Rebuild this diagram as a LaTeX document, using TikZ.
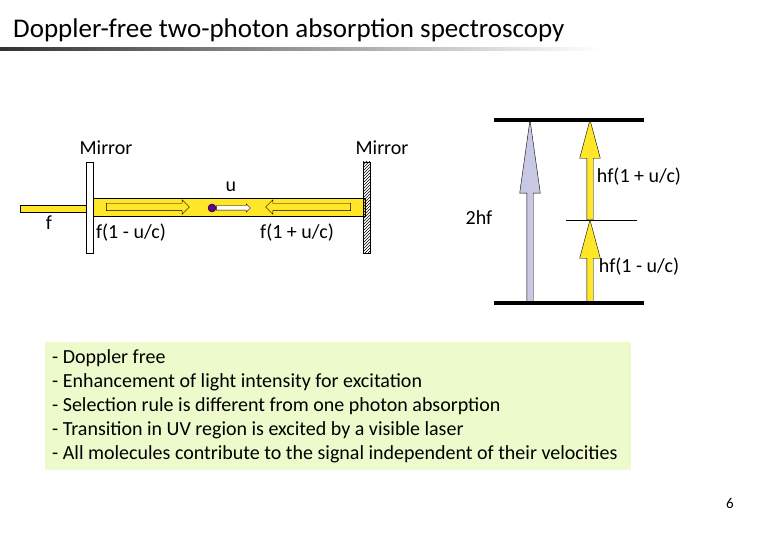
\documentclass[tikz,border=0pt]{standalone}
\usepackage{fontspec}
\setmainfont{Carlito}
\usetikzlibrary{shapes.arrows, patterns, positioning}
\definecolor{beam}{RGB}{255,230,40}
\definecolor{lavender}{RGB}{200,200,228}
\definecolor{notebg}{RGB}{236,250,204}
\tikzset{
    lbl/.style={inner sep=0pt, font=\fontsize{20}{22}\selectfont},
    beamarrow/.style={single arrow, draw, thin, fill=beam, inner sep=3.5pt,
        minimum width=14, single arrow head extend=3.5, single arrow head indent=0pt},
    level/.style={line width=4pt},
    photon/.style={single arrow, draw, thin, inner sep=3pt, shape border rotate=90,
        single arrow tip angle=30}
}
\begin{document}
\begin{tikzpicture}[x=1pt, y=-1pt]
    \useasboundingbox (0,0) rectangle (780,540);
    % title
    \node[anchor=west, inner sep=0pt, font=\fontsize{27}{30}\selectfont] (title) at (13,30) {Doppler-free two-photon absorption spectroscopy};
    \shade[left color=black!80, right color=white] (0,48) rectangle (600,51);
    % cavity
    \fill[beam, draw=black, thin] (20,205) rectangle (88,212);
    \fill[beam, draw=black, thin] (93,198) rectangle (365,216);
    \draw[fill=white] (86,162) rectangle (93,253);
    \draw[pattern=north east lines] (363,162) rectangle (370,253);
    \node[beamarrow, minimum height=83] (fwd) at (146,207) {};
    \node[beamarrow, minimum height=85, shape border rotate=180] (bwd) at (310,207) {};
    \node[circle, fill=violet!80!blue, draw=black, inner sep=0pt, minimum size=8] (mol) at (212,208) {};
    \node[single arrow, draw, fill=white, inner sep=2pt, minimum width=8, minimum height=34,
        single arrow head extend=2, anchor=tail] (vel) at (mol.east) {};
    \node[lbl] (m1) at (106,148) {Mirror};
    \node[lbl] (m2) at (382,148) {Mirror};
    \node[lbl] (u) at (231,187) {u};
    \node[lbl] (f) at (49,223) {f};
    \node[lbl] (fm) at (131,233) {f(1 - u/c)};
    \node[lbl] (fp) at (297,233) {f(1 + u/c)};
    % levels
    \coordinate (tl) at (494,120);
    \coordinate (tr) at (644,120);
    \coordinate (bl) at (494,303);
    \coordinate (br) at (644,303);
    \coordinate (ml) at (566,220);
    \coordinate (mr) at (637,220);
    \node[photon, fill=lavender, minimum width=12, minimum height=183, anchor=tail,
        single arrow tip angle=16] (two) at (530,303) {};
    \node[photon, fill=beam, minimum width=14, minimum height=83, anchor=tail] (low) at (590,303) {};
    \node[photon, fill=beam, minimum width=14, minimum height=100, anchor=tail] (high) at (590,220) {};
    \draw[level] (tl) -- (tr);
    \draw[level] (bl) -- (br);
    \draw (ml) -- (mr);
    \node[lbl] (e2) at (479,218) {2hf};
    \node[lbl] (ep) at (639,177) {hf(1 + u/c)};
    \node[lbl] (em) at (639,267) {hf(1 - u/c)};
    % notes
    \node[fill=notebg, anchor=north west, minimum width=586, minimum height=128, inner sep=0pt] (box) at (45,342) {};
    \node[anchor=north west, align=left, inner sep=0pt, font=\fontsize{20}{24}\selectfont] (notes) at (52,349)
        {- Doppler free\\
         - Enhancement of light intensity for excitation\\
         - Selection rule is different from one photon absorption\\
         - Transition in UV region is excited by a visible laser\\
         - All molecules contribute to the signal independent of their velocities};
    \node[inner sep=0pt, font=\fontsize{15}{17}\selectfont] (page) at (730,503) {6};
\end{tikzpicture}
\end{document}
